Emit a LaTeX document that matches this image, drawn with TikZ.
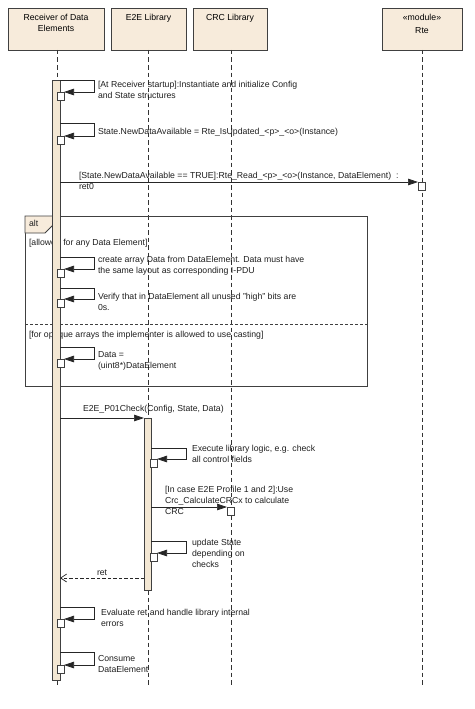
\documentclass[tikz,border=0pt]{standalone}
\usepackage{fontspec}
\setmainfont{Liberation Sans}
\usetikzlibrary{arrows.meta}
\definecolor{hdrfill}{HTML}{F7EBDB}
\definecolor{barfill}{HTML}{F3E7D3}
\definecolor{lncol}{HTML}{404040}
\begin{document}
\begin{tikzpicture}[x=1pt,y=-1pt,
  every node/.style={inner sep=0pt, outer sep=0pt},
  lbl/.style={anchor=north west, align=left, font=\fontsize{8.7}{11}\selectfont, text=black!88},
  hdr/.style={draw=lncol, fill=hdrfill, line width=0.7pt},
  life/.style={draw=black!80, line width=0.7pt, dash pattern=on 4.5pt off 3pt},
  actbar/.style={draw=lncol, fill=barfill, line width=0.7pt},
  actbox/.style={draw=lncol, fill=white, line width=0.7pt, minimum width=7pt, minimum height=8pt, anchor=north west},
  msg/.style={draw=black!85, line width=0.7pt, -{Triangle[length=10pt,width=6.5pt]}},
  rmsg/.style={draw=black!85, line width=0.7pt, dash pattern=on 3.5pt off 2pt, -{Straight Barb[length=6pt,width=8pt]}},
  frm/.style={draw=black!75, line width=0.8pt}]
\useasboundingbox (0,0) rectangle (474,709);
% headers
\draw[hdr] (8,8) rectangle (104,50);
\draw[hdr] (111,8) rectangle (186,50);
\draw[hdr] (193,8) rectangle (267,50);
\draw[hdr] (382,8) rectangle (462,50);
\node[font=\fontsize{8.7}{11}\selectfont, align=center, anchor=north] (hR) at (56,14) {Receiver of Data\\Elements};
\node[font=\fontsize{8.7}{11}\selectfont, anchor=north] (hE) at (148.5,14) {E2E Library};
\node[font=\fontsize{8.7}{11}\selectfont, anchor=north] (hC) at (230,14) {CRC Library};
\node[font=\fontsize{8.7}{13}\selectfont, align=center, anchor=north] (hT) at (422,14) {«module»\\Rte};
% lifelines
\coordinate (lR0) at (57,50); \coordinate (lR1) at (57,686);
\coordinate (lE0) at (148,50); \coordinate (lE1) at (148,686);
\coordinate (lC0) at (231,50); \coordinate (lC1) at (231,686);
\coordinate (lT0) at (422,50); \coordinate (lT1) at (422,686);
\draw[life] (lR0) -- (lR1);
\draw[life] (lE0) -- (lE1);
\draw[life] (lC0) -- (lC1);
\draw[life] (lT0) -- (lT1);
% alt frame
\draw[frm] (25,216) rectangle (367,386);
\draw[frm, fill=hdrfill] (25,216) -- (53,216) -- (53,225) -- (45,233) -- (25,233) -- cycle;
\node[lbl] (altl) at (29,220.5) {alt};
\draw[frm, dash pattern=on 3pt off 2pt] (25,324) -- (367,324);
\node[lbl] (g1) at (29,239) {[allowed for any Data Element]};
\node[lbl] (g2) at (29,331) {[for opaque arrays the implementer is allowed to use casting]};
% activation bars
\draw[actbar] (52,80) rectangle (60,680);
\draw[actbar] (144,418) rectangle (151,590);
% self message 1
\node[actbox] (b1) at (57,92) {};
\draw[msg] (60,80) -- (94,80) -- (94,92) -- (b1.north east |- 0,92);
\node[lbl] (t1) at (98,81) {[At Receiver startup]:Instantiate and initialize Config\\and State structures};
% self message 2
\node[actbox] (b2) at (57,136) {};
\draw[msg] (60,123) -- (94,123) -- (94,136) -- (b2.north east |- 0,136);
\node[lbl] (t2) at (98,128.5) {State.NewDataAvailable = Rte\_IsUpdated\_<p>\_<o>(Instance)};
% message 3 to Rte
\node[actbox] (b3) at (418,182) {};
\coordinate (s3) at (60,182);
\draw[msg] (s3) -- (b3.north west);
\node[lbl] (t3) at (79,172.5) {[State.NewDataAvailable == TRUE]:Rte\_Read\_<p>\_<o>(Instance, DataElement)~~:\\ret0};
% self message 4
\node[actbox] (b4) at (57,269) {};
\draw[msg] (60,257) -- (94,257) -- (94,269) -- (b4.north east |- 0,269);
\node[lbl] (t4) at (98,256) {create array Data from DataElement. Data must have\\the same layout as corresponding I-PDU};
% self message 5
\node[actbox] (b5) at (57,299) {};
\draw[msg] (60,288) -- (94,288) -- (94,299) -- (b5.north east |- 0,299);
\node[lbl] (t5) at (98,293.5) {Verify that in DataElement all unused "high" bits are\\0s.};
% self message 6
\node[actbox] (b6) at (57,359) {};
\draw[msg] (60,347) -- (94,347) -- (94,359) -- (b6.north east |- 0,359);
\node[lbl] (t6) at (98,351.5) {Data =\\(uint8*)DataElement};
% call to E2E
\coordinate (c0) at (60,418); \coordinate (c1) at (144,418);
\draw[msg] (c0) -- (c1);
\node[lbl] (tc) at (83,405) {E2E\_P01Check(Config, State, Data)};
% E2E self message 1
\node[actbox] (e1) at (150,459) {};
\draw[msg] (151,448) -- (186,448) -- (186,459) -- (e1.north east |- 0,459);
\node[lbl] (te1) at (192,445.5) {Execute library logic, e.g. check\\all control fields};
% CRC call
\node[actbox] (bc) at (227,507) {};
\draw[msg] (151,507) -- (bc.north west);
\node[lbl] (tcr) at (165,486) {[In case E2E Profile 1 and 2]:Use\\Crc\_CalculateCRCx to calculate\\CRC};
% E2E self message 2
\node[actbox] (e2) at (150,553) {};
\draw[msg] (151,541) -- (186,541) -- (186,553) -- (e2.north east |- 0,553);
\node[lbl] (te2) at (192,539.5) {update State\\depending on\\checks};
% return
\coordinate (r0) at (144,578); \coordinate (r1) at (60,578);
\draw[rmsg] (r0) -- (r1);
\node[lbl] (tr) at (97,570) {ret};
% self message 7
\node[actbox] (b7) at (57,619) {};
\draw[msg] (60,607) -- (94,607) -- (94,619) -- (b7.north east |- 0,619);
\node[lbl] (t7) at (101,609) {Evaluate ret and handle library internal\\errors};
% self message 8
\node[actbox] (b8) at (57,665) {};
\draw[msg] (60,652) -- (94,652) -- (94,665) -- (b8.north east |- 0,665);
\node[lbl] (t8) at (98,655) {Consume\\DataElement};
\end{tikzpicture}
\end{document}
